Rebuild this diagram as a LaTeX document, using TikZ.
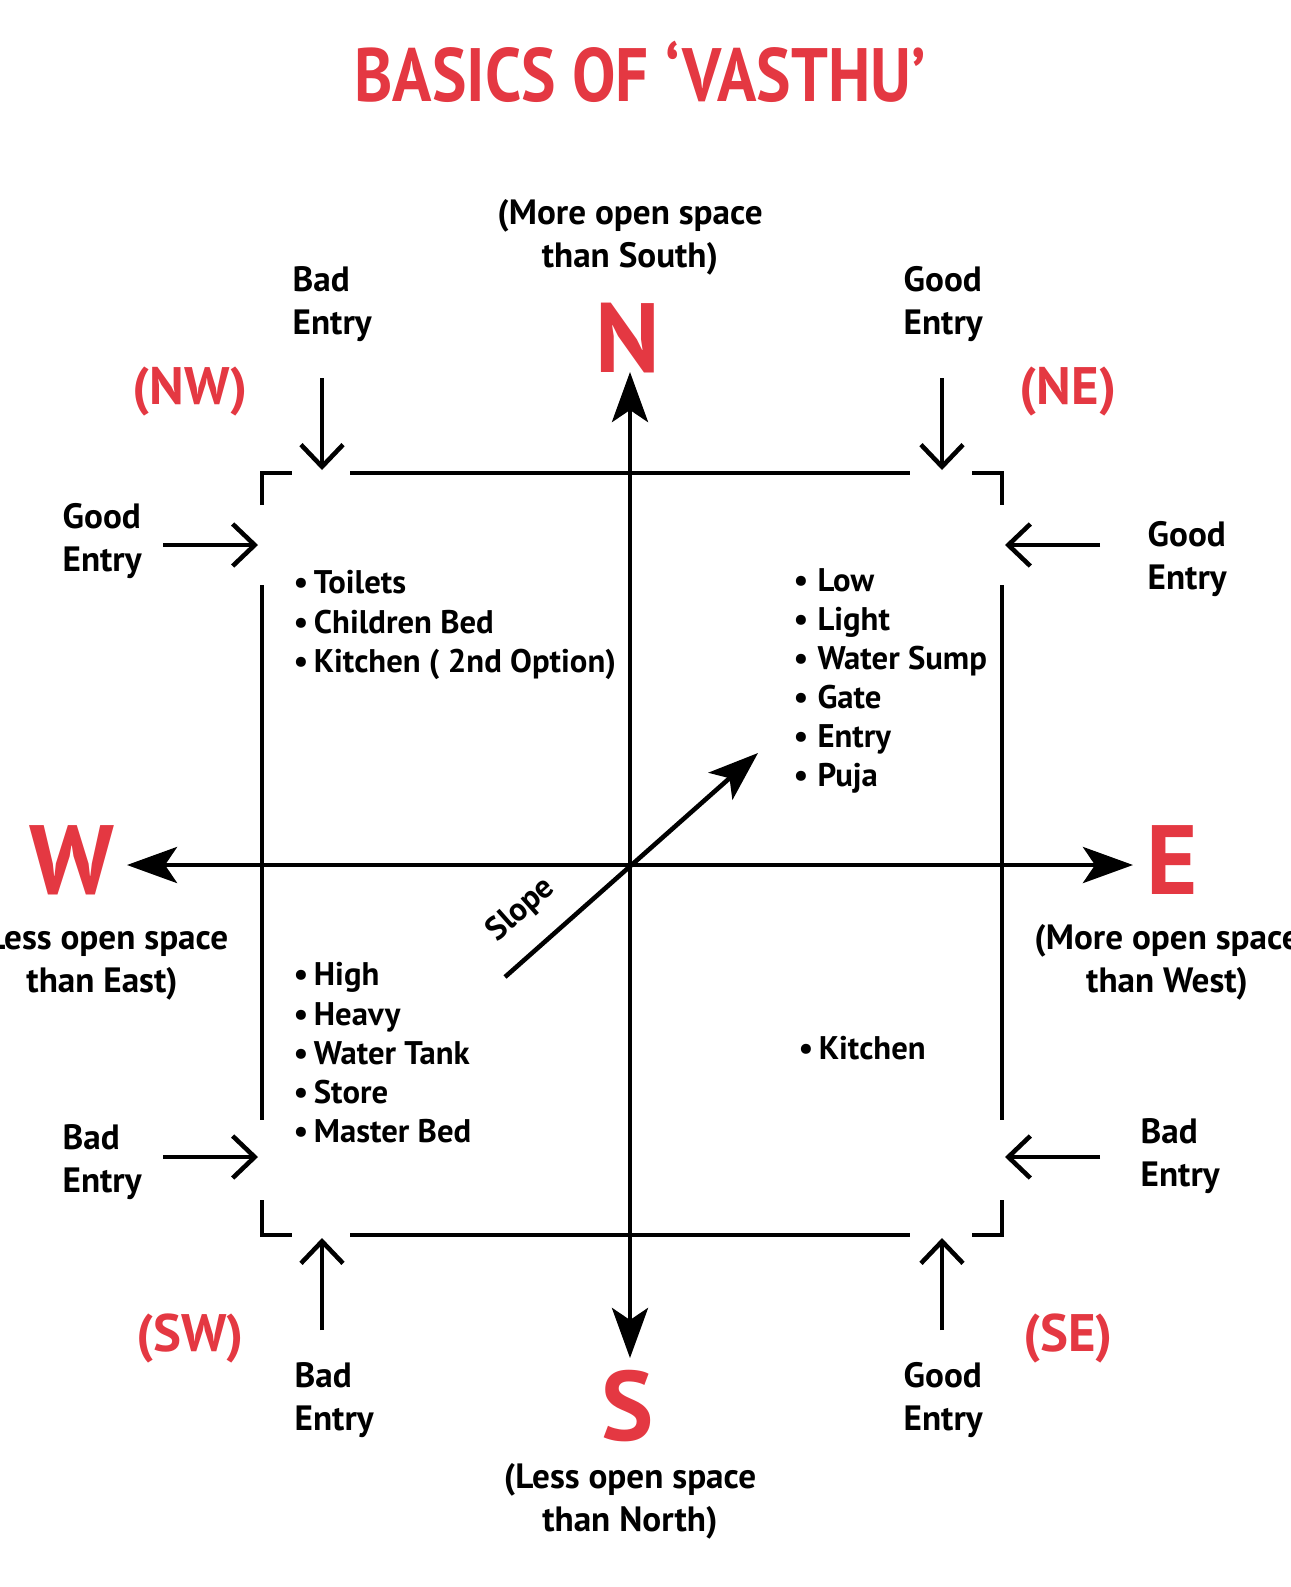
\documentclass[tikz,border=0pt]{standalone}
\usepackage{fontspec}
\setmainfont{PT Sans}
\usetikzlibrary{arrows.meta,positioning}
\definecolor{vred}{RGB}{228,56,66}
\tikzset{
  dir/.style={text=vred,font=\bfseries\fontsize{28}{30}\selectfont},
  corner/.style={text=vred,font=\bfseries\fontsize{15}{17}\selectfont},
  lbl/.style={align=left,anchor=north west,inner sep=0pt,font=\bfseries\fontsize{10}{12.2}\selectfont},
  note/.style={align=center,inner sep=0pt,font=\bfseries\fontsize{10}{12.2}\selectfont},
  items/.style={align=left,anchor=north west,inner sep=0pt,font=\bfseries\fontsize{9.3}{11.1}\selectfont},
  tip/.style={-{Stealth[length=5mm,width=3.6mm,inset=1.2mm]}},
  entry/.style={-{Straight Barb[length=2.2mm,width=4.2mm]},line width=1.3pt},
  wall/.style={line width=1.3pt}
}
\begin{document}
\begin{tikzpicture}[x=0.01cm,y=-0.01cm]
  \useasboundingbox (0,0) rectangle (1290,1587);
  \node (title) [text=vred,xscale=0.86,font=\bfseries\fontsize{21.5}{24}\selectfont] at (640,72) {BASICS OF ‘VASTHU’};

  % compass
  \coordinate (Ntip) at (630,372);
  \coordinate (Stip) at (630,1358);
  \coordinate (Wtip) at (127,865);
  \coordinate (Etip) at (1133,865);
  \coordinate (O) at (630,865);
  \draw [wall,tip] (O) -- (Ntip);
  \draw [wall,tip] (O) -- (Stip);
  \draw [wall,tip] (O) -- (Wtip);
  \draw [wall,tip] (O) -- (Etip);
  \coordinate (s0) at (505,977);
  \coordinate (s1) at (758,753);
  \draw [wall,tip] (s0) -- (s1);
  \node (slope) [rotate=41.6,font=\bfseries\fontsize{9.3}{11}\selectfont] at (521,910) {Slope};

  \node (N) [dir] at (628,338) {N};
  \node (S) [dir] at (628,1406) {S};
  \node (W) [dir] at (72,860) {W};
  \node (E) [dir] at (1172,860) {E};
  \node (NW) [corner] at (190,392) {(NW)};
  \node (NE) [corner] at (1068,392) {(NE)};
  \node (SW) [corner] at (190,1338) {(SW)};
  \node (SE) [corner] at (1068,1338) {(SE)};

  % walls
  \draw [wall] (262,505) |- (292,473);
  \draw [wall] (350,473) -- (910,473);
  \draw [wall] (972,473) -| (1002,505);
  \draw [wall] (262,585) -- (262,1120);
  \draw [wall] (1002,585) -- (1002,1120);
  \draw [wall] (262,1200) |- (292,1235);
  \draw [wall] (350,1235) -- (910,1235);
  \draw [wall] (972,1235) -| (1002,1200);

  % entry arrows
  \foreach \nm/\ax/\ay/\bx/\by in {tl/322/378/322/470, tr/942/378/942/470,
      bl/322/1330/322/1238, br/942/1330/942/1238,
      lt/163/545/258/545, lb/163/1157/258/1157,
      rt/1100/545/1005/545, rb/1100/1157/1005/1157}{
    \coordinate (\nm a) at (\ax,\ay);
    \coordinate (\nm b) at (\bx,\by);
    \draw [entry] (\nm a) -- (\nm b);
  }

  % entry labels
  \node (etl) [lbl] at (292,266) {Bad\\Entry};
  \node (etr) [lbl] at (903,266) {Good\\Entry};
  \node (elt) [lbl] at (62,503) {Good\\Entry};
  \node (ert) [lbl] at (1147,521) {Good\\Entry};
  \node (elb) [lbl] at (62,1124) {Bad\\Entry};
  \node (erb) [lbl] at (1140,1118) {Bad\\Entry};
  \node (ebl) [lbl] at (294,1362) {Bad\\Entry};
  \node (ebr) [lbl] at (903,1362) {Good\\Entry};

  % space notes
  \node (nN) [note] at (630,237) {(More open space\\than South)};
  \node (nS) [note] at (630,1501) {(Less open space\\than North)};
  \node (nW) [note] at (102,962) {(Less open space\\than East)};
  \node (nE) [note] at (1167,962) {(More open space\\than West)};

  % quadrant lists
  \node (qNW) [items] at (293,570) {•\,Toilets\\•\,Children Bed\\•\,Kitchen ( 2nd Option)};
  \node (qNE) [items] at (793,568) {•\;Low\\•\;Light\\•\;Water Sump\\•\;Gate\\•\;Entry\\•\;Puja};
  \node (qSW) [items] at (293,962) {•\,High\\•\,Heavy\\•\,Water Tank\\•\,Store\\•\,Master Bed};
  \node (qSE) [items] at (798,1036) {•\,Kitchen};
\end{tikzpicture}
\end{document}
